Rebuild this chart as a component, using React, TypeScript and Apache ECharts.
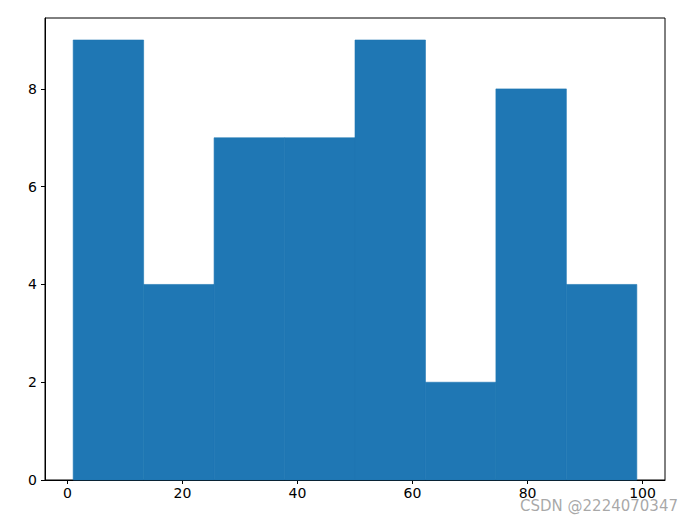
import React, { useEffect, useRef } from "react";
import * as echarts from "echarts";

const binEdges = [1, 13.25, 25.5, 37.75, 50, 62.25, 74.5, 86.75, 99];
const counts = [9, 4, 7, 7, 9, 2, 8, 4];
const xTicks = [0, 20, 40, 60, 80, 100];
const yTicks = [0, 2, 4, 6, 8];
const watermark = "CSDN @2224070347";

export default function App() {
  const ref = useRef<HTMLDivElement>(null);
  useEffect(() => {
    if (!ref.current) return;
    const chart = echarts.init(ref.current, null, { renderer: "svg" });
    const data = counts.map((c, i) => [binEdges[i], binEdges[i + 1], c]);
    const font = "DejaVu Sans";
    chart.setOption({
      animation: false,
      grid: {
        left: 45,
        right: 27,
        top: 18,
        bottom: 41,
        show: true,
        borderColor: "#000",
        borderWidth: 1,
        backgroundColor: "transparent",
      },
      xAxis: {
        type: "value",
        min: -3.9,
        max: 103.9,
        axisLine: { show: true, onZero: false, lineStyle: { color: "#000", width: 1 } },
        axisTick: {
          show: true,
          inside: false,
          length: 4,
          lineStyle: { color: "#000" },
          customValues: xTicks,
        },
        axisLabel: {
          color: "#000",
          fontFamily: font,
          fontSize: 14,
          margin: 6,
          customValues: xTicks,
        },
        splitLine: { show: false },
      },
      yAxis: {
        type: "value",
        min: 0,
        max: 9.45,
        axisLine: { show: true, onZero: false, lineStyle: { color: "#000", width: 1 } },
        axisTick: {
          show: true,
          inside: false,
          length: 4,
          lineStyle: { color: "#000" },
          customValues: yTicks,
        },
        axisLabel: {
          color: "#000",
          fontFamily: font,
          fontSize: 14,
          margin: 8,
          customValues: yTicks,
        },
        splitLine: { show: false },
      },
      series: [
        {
          type: "custom",
          data,
          encode: { x: [0, 1], y: 2 },
          renderItem: (params: any, api: any) => {
            const p0 = api.coord([api.value(0), 0]);
            const p1 = api.coord([api.value(1), api.value(2)]);
            return {
              type: "rect",
              shape: {
                x: p0[0],
                y: p1[1],
                width: p1[0] - p0[0],
                height: p0[1] - p1[1],
              },
              style: { fill: "#1f77b4", stroke: "#1f77b4", lineWidth: 0.6 },
            };
          },
        },
      ],
      graphic: [
        {
          type: "text",
          right: 14,
          top: 498,
          z: 100,
          style: {
            text: watermark,
            fill: "rgba(140,140,140,0.75)",
            font: "15px 'DejaVu Sans'",
          },
        },
      ],
    });
    return () => chart.dispose();
  }, []);
  return (
    <div
      ref={ref}
      style={{ position: "fixed", left: 0, top: 0, width: 692, height: 521, background: "#fff" }}
    />
  );
}
